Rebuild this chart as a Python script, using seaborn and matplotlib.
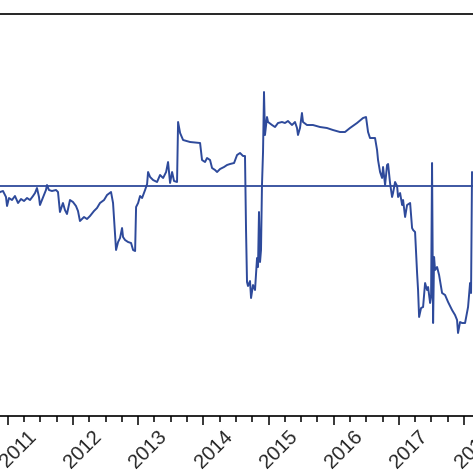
import numpy as np
import pandas as pd
import matplotlib
matplotlib.use("Agg")
import matplotlib.pyplot as plt
import matplotlib.dates as mdates
import matplotlib.transforms as mtransforms
import seaborn as sns

# ---------------------------------------------------------
# Data (decimal years, arbitrary units; reference level = 0)
# ---------------------------------------------------------
years = [
    2010.800, 2010.877, 2010.923, 2010.969, 2010.985, 2011.015, 2011.061, 2011.107,
    2011.154, 2011.200, 2011.246, 2011.292, 2011.338, 2011.384, 2011.415, 2011.445,
    2011.476, 2011.491, 2011.522, 2011.553, 2011.583, 2011.599, 2011.629, 2011.675,
    2011.737, 2011.768, 2011.798, 2011.844, 2011.875, 2011.906, 2011.952, 2011.998,
    2012.044, 2012.075, 2012.105, 2012.167, 2012.213, 2012.259, 2012.320, 2012.366,
    2012.412, 2012.474, 2012.520, 2012.581, 2012.612, 2012.643, 2012.658, 2012.689,
    2012.719, 2012.750, 2012.765, 2012.796, 2012.842, 2012.888, 2012.919, 2012.950,
    2012.965, 2012.996, 2013.026, 2013.057, 2013.103, 2013.134, 2013.149, 2013.180,
    2013.226, 2013.287, 2013.333, 2013.380, 2013.426, 2013.456, 2013.487, 2013.518,
    2013.548, 2013.594, 2013.610, 2013.641, 2013.687, 2013.794, 2013.948, 2013.978,
    2014.024, 2014.055, 2014.101, 2014.132, 2014.178, 2014.209, 2014.255, 2014.316,
    2014.362, 2014.408, 2014.470, 2014.516, 2014.562, 2014.608, 2014.638, 2014.654,
    2014.669, 2014.684, 2014.715, 2014.731, 2014.761, 2014.792, 2014.823, 2014.838,
    2014.853, 2014.869, 2014.884, 2014.899, 2014.915, 2014.930, 2014.945, 2014.976,
    2014.992, 2015.053, 2015.099, 2015.145, 2015.206, 2015.252, 2015.298, 2015.360,
    2015.406, 2015.437, 2015.452, 2015.483, 2015.513, 2015.529, 2015.590, 2015.682,
    2015.790, 2015.897, 2015.989, 2016.097, 2016.174, 2016.250, 2016.358, 2016.450,
    2016.496, 2016.527, 2016.557, 2016.634, 2016.665, 2016.680, 2016.711, 2016.742,
    2016.757, 2016.788, 2016.818, 2016.834, 2016.864, 2016.895, 2016.910, 2016.941,
    2016.972, 2016.987, 2017.018, 2017.049, 2017.064, 2017.095, 2017.125, 2017.172,
    2017.202, 2017.218, 2017.248, 2017.279, 2017.294, 2017.310, 2017.340, 2017.371,
    2017.402, 2017.432, 2017.448, 2017.479, 2017.494, 2017.509, 2017.525, 2017.540,
    2017.555, 2017.586, 2017.617, 2017.663, 2017.709, 2017.755, 2017.816, 2017.862,
    2017.893, 2017.908, 2017.939, 2017.970, 2018.016, 2018.062, 2018.093, 2018.108,
    2018.123,
]
values = [
    -1.1, -0.6, -0.5, -1.1, -2.0, -1.2, -1.4, -1.0,
    -1.7, -1.3, -1.5, -1.2, -1.4, -1.0, -0.7, -0.2,
    -1.1, -1.9, -1.4, -0.9, -0.4, 0.1, -0.4, -0.5,
    -0.4, -0.6, -2.6, -1.7, -2.4, -2.8, -1.4, -1.6,
    -2.0, -2.5, -3.5, -3.1, -3.3, -3.0, -2.5, -2.2,
    -1.7, -1.4, -0.9, -0.6, -1.7, -4.9, -6.4, -5.6,
    -5.2, -4.2, -5.1, -5.4, -5.6, -5.7, -6.4, -6.5,
    -2.1, -1.7, -1.0, -1.2, -0.4, 0.2, 1.4, 0.9,
    0.6, 0.4, 1.1, 0.8, 1.4, 2.4, 0.3, 1.4,
    0.5, 0.4, 6.4, 5.3, 4.6, 4.4, 4.3, 2.6,
    2.4, 2.8, 2.6, 1.8, 1.6, 1.4, 1.7, 1.9,
    2.1, 2.2, 2.3, 3.1, 3.3, 3.0, 3.0, -4.4,
    -9.6, -10.0, -9.5, -11.2, -9.9, -10.4, -7.2, -8.1,
    -2.6, -7.6, -6.4, 0.1, 3.4, 9.4, 5.1, 6.9,
    6.4, 6.1, 5.9, 6.3, 6.4, 6.3, 6.5, 6.1,
    6.4, 5.8, 5.1, 5.8, 7.3, 6.4, 6.1, 6.1,
    5.9, 5.8, 5.6, 5.4, 5.4, 5.8, 6.3, 6.8,
    6.9, 5.4, 4.8, 4.8, 3.6, 2.6, 1.4, 0.8,
    1.9, 0.1, 2.1, 2.2, 0.3, -1.1, -0.7, 0.4,
    0.0, -1.1, -0.7, -1.9, -1.4, -3.1, -1.9, -1.7,
    -4.2, -4.4, -4.6, -8.7, -10.4, -13.1, -12.2, -12.1,
    -9.7, -10.4, -10.1, -11.7, -11.1, 2.3, -13.7, -7.1,
    -8.4, -8.1, -8.9, -10.7, -10.9, -11.6, -12.4, -12.9,
    -13.4, -14.7, -13.6, -13.7, -13.7, -12.1, -9.7, -10.7,
    1.4,
]
reference_level = 0.0


def to_date(y):
    start = pd.Timestamp(year=int(np.floor(y)), month=1, day=1)
    end = pd.Timestamp(year=int(np.floor(y)) + 1, month=1, day=1)
    return start + (end - start) * (y - np.floor(y))


df = pd.DataFrame({"date": [to_date(y) for y in years], "value": values})

# ---------------------------------------------------------
# Plot
# ---------------------------------------------------------
sns.set_style("ticks")
plt.rcParams["font.family"] = ["Liberation Sans", "DejaVu Sans"]

line_color = "#2E4A9B"

fig = plt.figure(figsize=(4.73, 4.73), dpi=100)
ax = fig.add_axes([0.0, 0.1211, 1.0, 0.8493])

sns.lineplot(data=df, x="date", y="value", ax=ax, color=line_color, linewidth=1.4)
ax.axhline(reference_level, color=line_color, linewidth=1.3)

ax.set_xlim(to_date(2010.877), to_date(2018.138))
ax.set_ylim(-22.97, 17.2)

ax.xaxis.set_major_locator(mdates.YearLocator())
ax.xaxis.set_major_formatter(mdates.DateFormatter("%Y"))
ax.xaxis.set_minor_locator(mdates.MonthLocator(bymonth=[4, 7, 10]))
ax.tick_params(axis="x", which="major", length=6.5, width=1.1, pad=1.5,
               labelsize=14.5, color="black", direction="out")
ax.tick_params(axis="x", which="minor", length=4.3, width=1.1, color="black",
               direction="out")
ax.tick_params(axis="y", left=False, labelleft=False)

offset = mtransforms.ScaledTranslation(0.10, 0, fig.dpi_scale_trans)
for lab in ax.get_xticklabels():
    lab.set_rotation(45)
    lab.set_ha("center")
    lab.set_transform(lab.get_transform() + offset)

ax.set_xlabel("")
ax.set_ylabel("")
for side in ["left", "right"]:
    ax.spines[side].set_visible(False)
for side in ["top", "bottom"]:
    ax.spines[side].set_linewidth(1.2)
    ax.spines[side].set_color("black")

fig.savefig("out.png", dpi=100)
plt.close(fig)
